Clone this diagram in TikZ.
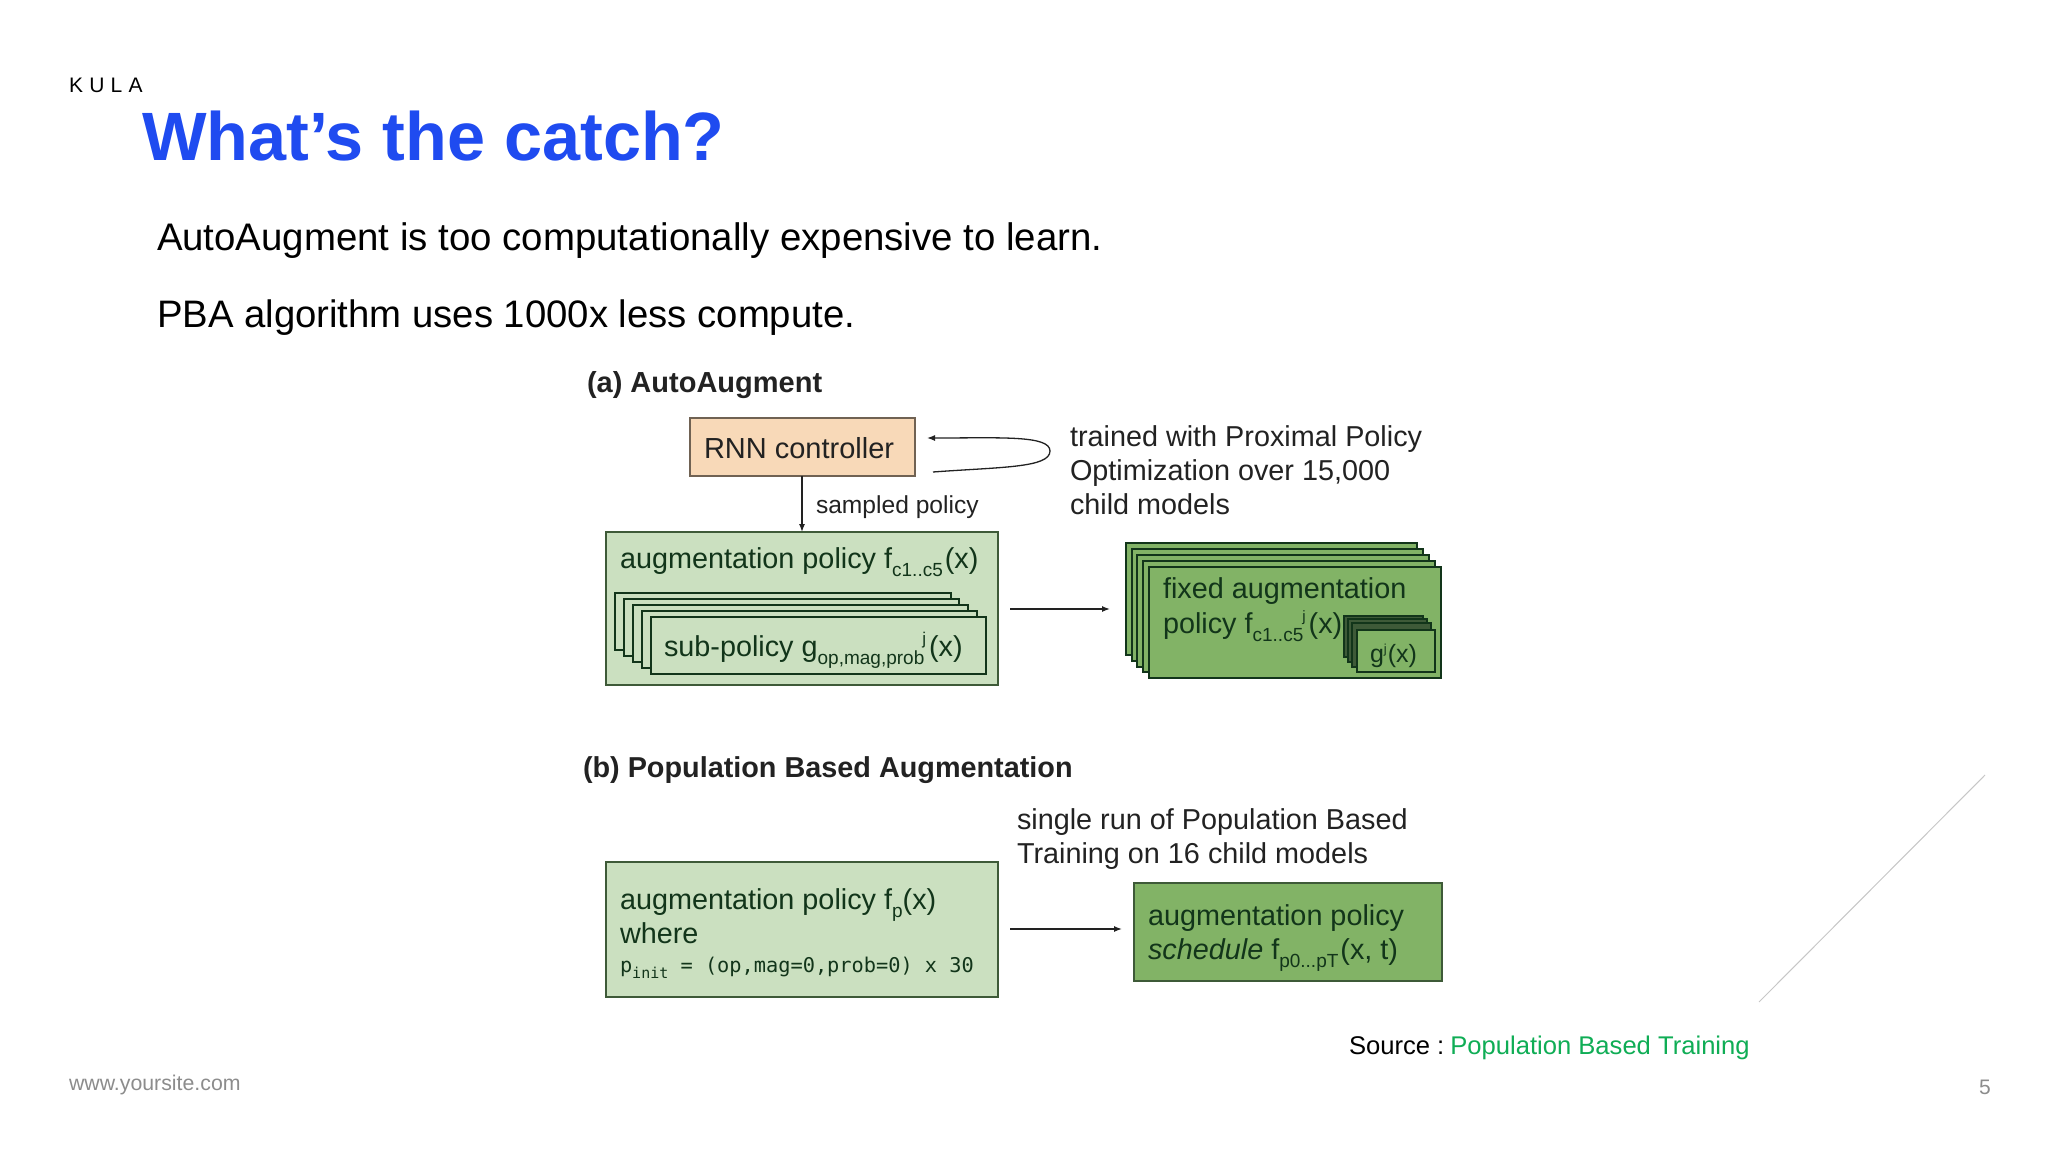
\documentclass[tikz,border=0pt]{standalone}
\usepackage{fontspec}
\setmainfont{Liberation Sans}
\newfontfamily\dvmono{DejaVu Sans Mono}
\usetikzlibrary{arrows.meta}
\definecolor{titleblue}{HTML}{1F4BF0}
\definecolor{linkgreen}{HTML}{0FAD55}
\definecolor{lightgreen}{HTML}{CBE0C0}
\definecolor{midgreen}{HTML}{82B366}
\definecolor{edgegreen}{HTML}{3E5A38}
\definecolor{orangebox}{HTML}{F8D9B8}
\definecolor{inkdark}{HTML}{222222}
\definecolor{inkgreen}{HTML}{12351A}
\newcommand{\fs}[1]{\fontsize{#1}{#1}\selectfont}
\newcommand{\lowtxt}[2][19]{\raisebox{-8pt}{\fs{#1}#2}}
\newcommand{\hightxt}[2][17]{\raisebox{12pt}{\fs{#1}#2}}
\tikzset{
  x=1pt,y=-1pt,
  lbl/.style={anchor=base west,inner sep=0pt,outer sep=0pt,text=inkdark},
  grn/.style={lbl,text=inkgreen},
  lbox/.style={draw=edgegreen,line width=1.6pt,fill=lightgreen,outer sep=0pt},
  lay/.style={draw=inkgreen,line width=1.5pt,fill=lightgreen,outer sep=0pt},
  play/.style={draw=inkgreen,line width=1.6pt,fill=midgreen,outer sep=0pt},
  conn/.style={draw=inkdark,line width=1.3pt,-{Latex[length=8pt,width=6pt]}}
}
\begin{document}
\begin{tikzpicture}
\useasboundingbox (0,0) rectangle (2048,1152);
\fill[white] (0,0) rectangle (2048,1152);
% decorative diagonal
\coordinate (da) at (1759,1002); \coordinate (db) at (1985,775);
\draw[draw=black!22,line width=1pt] (da) -- (db);
% header
\node[lbl,text=black] (kula) at (69,92) {\fs{21}\addfontfeature{LetterSpace=30}KULA};
\node[lbl,text=titleblue] (title) at (142,160) {\fs{68.4}\bfseries What’s the catch?};
\node[lbl,text=black] (l1) at (157,250) {\fs{38.4}AutoAugment is too computationally expensive to learn.};
\node[lbl,text=black] (l2) at (157,327) {\fs{38.3}PBA algorithm uses 1000x less compute.};
% (a)
\node[lbl] (ta) at (587,392.5) {\fs{29}\bfseries (a) AutoAugment};
\node[draw=black!55!orangebox,line width=1.6pt,fill=orangebox,outer sep=0pt,anchor=north west,inner sep=0pt,minimum width=225pt,minimum height=58pt] (rnn) at (690,418) {};
\node[lbl] (rnnt) at (704,458.5) {\fs{29}RNN controller};
\coordinate (loopa) at (933,472);
\coordinate (loopb) at (927,438);
\draw[conn] (loopa) .. controls (1000,467) and (1050,468) .. (1050,451) .. controls (1050,435) and (1000,438) .. (loopb);
\node[lbox,anchor=north west,inner sep=0pt,minimum width=392pt,minimum height=153pt] (aug) at (606,532) {};
\coordinate (rnnout) at (802,476);
\coordinate (augin) at (802,532);
\draw[conn] (rnnout) -- (augin);
\node[lbl] (samp) at (816,513.5) {\fs{24.6}sampled policy};
\node[grn] (augt) at (620,568) {\fs{28.8}augmentation policy f\lowtxt{c1..c5}\hspace{2pt}(x)};
\foreach \i/\l/\t/\r/\b in {a/615/593/951/650,b/624/599/959/656,c/633/605/968/662,d/642/611/977/668,e/651/617/986/674}{
  \node[lay,anchor=north west,inner sep=0pt,minimum width=\r pt-\l pt,minimum height=\b pt-\t pt] (s\i) at (\l,\t) {};
}
\node[grn] (subt) at (664,656.5) {\fs{28.8}sub-policy g\lowtxt{op,mag,prob}\hspace{-2pt}\hightxt{j}\hspace{3pt}(x)};
\coordinate (arra) at (1010,609); \coordinate (arrb) at (1110,609);
\draw[conn] (arra) -- (arrb);
\node[lbl] (tr1) at (1070,446) {\fs{28.8}trained with Proximal Policy};
\node[lbl] (tr2) at (1070,480.5) {\fs{28.8}Optimization over 15,000};
\node[lbl] (tr3) at (1070,514.5) {\fs{28.8}child models};
\foreach \i/\l/\t/\r/\b in {a/1126/543/1417/655,b/1132/549/1423/661,c/1137/555/1429/667,d/1143/561/1435/672,e/1149/567/1441/678}{
  \node[play,anchor=north west,inner sep=0pt,minimum width=\r pt-\l pt,minimum height=\b pt-\t pt] (f\i) at (\l,\t) {};
}
\node[grn] (fx1) at (1163,598.5) {\fs{28.8}fixed augmentation};
\node[grn] (fx2) at (1163,633.5) {\fs{28.8}policy f\lowtxt{c1..c5}\hspace{-1pt}\hightxt[15]{j}\hspace{3pt}(x)};
\foreach \i/\l/\t/\r/\b in {a/1344/616/1423/657,b/1348/619/1427/662,c/1352/623/1431/667}{
  \node[draw=inkgreen,line width=1.4pt,fill=edgegreen,outer sep=0pt,anchor=north west,inner sep=0pt,minimum width=\r pt-\l pt,minimum height=\b pt-\t pt] (g\i) at (\l,\t) {};
}
\node[play,anchor=north west,inner sep=0pt,minimum width=78pt,minimum height=42pt] (gd) at (1357,630) {};
\node[grn] (gt) at (1370,662) {\fs{25}g\raisebox{9pt}{\fs{13}j}\hspace{1pt}(x)};
% (b)
\node[lbl] (tb) at (583,777.5) {\fs{28.8}\bfseries (b) Population Based Augmentation};
\node[lbl] (si1) at (1017,829) {\fs{28.8}single run of Population Based};
\node[lbl] (si2) at (1017,863) {\fs{28.8}Training on 16 child models};
\node[lbox,anchor=north west,inner sep=0pt,minimum width=392pt,minimum height=135pt] (pba) at (606,862) {};
\node[grn] (p1) at (620,909) {\fs{28.8}augmentation policy f\lowtxt{p}(x)};
\node[grn] (p2) at (620,943) {\fs{28.8}where};
\node[grn] (p3) at (620,972) {\dvmono\fs{20.3}p\raisebox{-6pt}{\fs{15}init} = (op,mag=0,prob=0) x 30};
\coordinate (arrc) at (1010,929); \coordinate (arrd) at (1122,929);
\draw[conn] (arrc) -- (arrd);
\node[draw=edgegreen,line width=1.6pt,fill=midgreen,outer sep=0pt,anchor=north west,inner sep=0pt,minimum width=308pt,minimum height=98pt] (sch) at (1134,883) {};
\node[grn] (sc1) at (1148,925) {\fs{28.8}augmentation policy};
\node[grn] (sc2) at (1148,959.5) {\fs{28.8}\itshape schedule\upshape{} f\lowtxt{p0...pT}\hspace{2pt}(x, t)};
% footer
\node[lbl,text=black] (src) at (1349,1054) {\fs{25.6}Source :\hspace{6pt}\textcolor{linkgreen}{Population Based Training}};
\node[lbl,text=black!45] (web) at (69,1090) {\fs{21.3}www.yoursite.com};
\node[lbl,text=black!45] (pg) at (1979,1094) {\fs{21}5};
\end{tikzpicture}
\end{document}
